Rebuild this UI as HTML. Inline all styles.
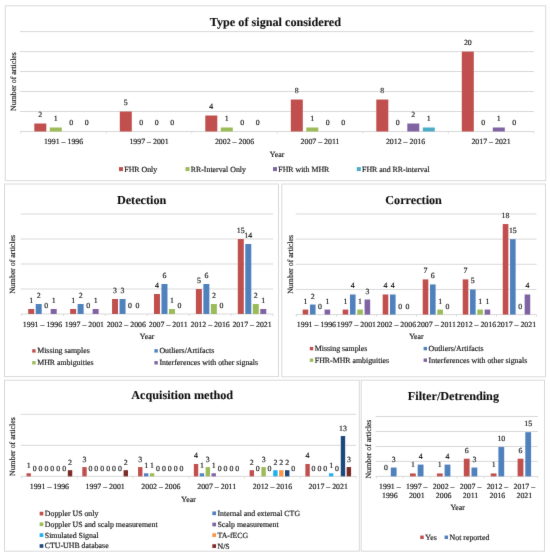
<!DOCTYPE html>
<html><head><meta charset="utf-8"><style>
html,body{margin:0;padding:0;background:#fff;}
svg{display:block;font-family:"Liberation Serif",serif;text-rendering:geometricPrecision;}
</style></head><body>
<svg width="550" height="556" viewBox="0 0 550 556">
<defs><filter id="bl" x="-5%" y="-5%" width="110%" height="110%"><feConvolveMatrix order="3" kernelMatrix="0.0048 0.0595 0.0048 0.0595 0.7432 0.0595 0.0048 0.0595 0.0048" edgeMode="duplicate" preserveAlpha="false"/></filter></defs>
<rect width="550" height="556" fill="#fff"/>
<g filter="url(#bl)">
<rect x="5.30" y="5.80" width="540.40" height="174.90" fill="none" stroke="#D9D9D9" stroke-width="1"/>
<text x="275.40" y="26.20" font-size="12.2" font-weight="bold" text-anchor="middle" fill="#111" stroke="#111" stroke-width="0.1" >Type of signal considered</text>
<line x1="20.00" y1="31.60" x2="533.80" y2="31.60" stroke="#D9D9D9" stroke-width="1"/>
<line x1="20.00" y1="51.60" x2="533.80" y2="51.60" stroke="#D9D9D9" stroke-width="1"/>
<line x1="20.00" y1="71.50" x2="533.80" y2="71.50" stroke="#D9D9D9" stroke-width="1"/>
<line x1="20.00" y1="91.50" x2="533.80" y2="91.50" stroke="#D9D9D9" stroke-width="1"/>
<line x1="20.00" y1="111.50" x2="533.80" y2="111.50" stroke="#D9D9D9" stroke-width="1"/>
<line x1="20.00" y1="131.50" x2="533.80" y2="131.50" stroke="#D9D9D9" stroke-width="1"/>
<line x1="20.80" y1="131.50" x2="20.80" y2="133.50" stroke="#D9D9D9" stroke-width="1"/>
<line x1="106.30" y1="131.50" x2="106.30" y2="133.50" stroke="#D9D9D9" stroke-width="1"/>
<line x1="191.80" y1="131.50" x2="191.80" y2="133.50" stroke="#D9D9D9" stroke-width="1"/>
<line x1="277.30" y1="131.50" x2="277.30" y2="133.50" stroke="#D9D9D9" stroke-width="1"/>
<line x1="362.80" y1="131.50" x2="362.80" y2="133.50" stroke="#D9D9D9" stroke-width="1"/>
<line x1="448.30" y1="131.50" x2="448.30" y2="133.50" stroke="#D9D9D9" stroke-width="1"/>
<line x1="533.80" y1="131.50" x2="533.80" y2="133.50" stroke="#D9D9D9" stroke-width="1"/>
<rect x="34.30" y="123.51" width="12.00" height="7.99" fill="#C0504D"/>
<text x="40.30" y="117.11" font-size="7.85" font-weight="normal" text-anchor="middle" fill="#111" stroke="#111" stroke-width="0.15" >2</text>
<rect x="49.80" y="127.50" width="12.00" height="4.00" fill="#9BBB59"/>
<text x="55.80" y="121.10" font-size="7.85" font-weight="normal" text-anchor="middle" fill="#111" stroke="#111" stroke-width="0.15" >1</text>
<text x="71.30" y="125.10" font-size="7.85" font-weight="normal" text-anchor="middle" fill="#111" stroke="#111" stroke-width="0.15" >0</text>
<text x="86.80" y="125.10" font-size="7.85" font-weight="normal" text-anchor="middle" fill="#111" stroke="#111" stroke-width="0.15" >0</text>
<text x="63.55" y="144.30" font-size="7.85" font-weight="normal" text-anchor="middle" fill="#111" stroke="#111" stroke-width="0.15" >1991 – 1996</text>
<rect x="119.80" y="111.53" width="12.00" height="19.98" fill="#C0504D"/>
<text x="125.80" y="105.12" font-size="7.85" font-weight="normal" text-anchor="middle" fill="#111" stroke="#111" stroke-width="0.15" >5</text>
<text x="141.30" y="125.10" font-size="7.85" font-weight="normal" text-anchor="middle" fill="#111" stroke="#111" stroke-width="0.15" >0</text>
<text x="156.80" y="125.10" font-size="7.85" font-weight="normal" text-anchor="middle" fill="#111" stroke="#111" stroke-width="0.15" >0</text>
<text x="172.30" y="125.10" font-size="7.85" font-weight="normal" text-anchor="middle" fill="#111" stroke="#111" stroke-width="0.15" >0</text>
<text x="149.05" y="144.30" font-size="7.85" font-weight="normal" text-anchor="middle" fill="#111" stroke="#111" stroke-width="0.15" >1997 – 2001</text>
<rect x="205.30" y="115.52" width="12.00" height="15.98" fill="#C0504D"/>
<text x="211.30" y="109.12" font-size="7.85" font-weight="normal" text-anchor="middle" fill="#111" stroke="#111" stroke-width="0.15" >4</text>
<rect x="220.80" y="127.50" width="12.00" height="4.00" fill="#9BBB59"/>
<text x="226.80" y="121.10" font-size="7.85" font-weight="normal" text-anchor="middle" fill="#111" stroke="#111" stroke-width="0.15" >1</text>
<text x="242.30" y="125.10" font-size="7.85" font-weight="normal" text-anchor="middle" fill="#111" stroke="#111" stroke-width="0.15" >0</text>
<text x="257.80" y="125.10" font-size="7.85" font-weight="normal" text-anchor="middle" fill="#111" stroke="#111" stroke-width="0.15" >0</text>
<text x="234.55" y="144.30" font-size="7.85" font-weight="normal" text-anchor="middle" fill="#111" stroke="#111" stroke-width="0.15" >2002 – 2006</text>
<rect x="290.80" y="99.54" width="12.00" height="31.96" fill="#C0504D"/>
<text x="296.80" y="93.14" font-size="7.85" font-weight="normal" text-anchor="middle" fill="#111" stroke="#111" stroke-width="0.15" >8</text>
<rect x="306.30" y="127.50" width="12.00" height="4.00" fill="#9BBB59"/>
<text x="312.30" y="121.10" font-size="7.85" font-weight="normal" text-anchor="middle" fill="#111" stroke="#111" stroke-width="0.15" >1</text>
<text x="327.80" y="125.10" font-size="7.85" font-weight="normal" text-anchor="middle" fill="#111" stroke="#111" stroke-width="0.15" >0</text>
<text x="343.30" y="125.10" font-size="7.85" font-weight="normal" text-anchor="middle" fill="#111" stroke="#111" stroke-width="0.15" >0</text>
<text x="320.05" y="144.30" font-size="7.85" font-weight="normal" text-anchor="middle" fill="#111" stroke="#111" stroke-width="0.15" >2007 – 2011</text>
<rect x="376.30" y="99.54" width="12.00" height="31.96" fill="#C0504D"/>
<text x="382.30" y="93.14" font-size="7.85" font-weight="normal" text-anchor="middle" fill="#111" stroke="#111" stroke-width="0.15" >8</text>
<text x="397.80" y="125.10" font-size="7.85" font-weight="normal" text-anchor="middle" fill="#111" stroke="#111" stroke-width="0.15" >0</text>
<rect x="407.30" y="123.51" width="12.00" height="7.99" fill="#8064A2"/>
<text x="413.30" y="117.11" font-size="7.85" font-weight="normal" text-anchor="middle" fill="#111" stroke="#111" stroke-width="0.15" >2</text>
<rect x="422.80" y="127.50" width="12.00" height="4.00" fill="#4BACC6"/>
<text x="428.80" y="121.10" font-size="7.85" font-weight="normal" text-anchor="middle" fill="#111" stroke="#111" stroke-width="0.15" >1</text>
<text x="405.55" y="144.30" font-size="7.85" font-weight="normal" text-anchor="middle" fill="#111" stroke="#111" stroke-width="0.15" >2012 – 2016</text>
<rect x="461.80" y="51.60" width="12.00" height="79.90" fill="#C0504D"/>
<text x="467.80" y="45.20" font-size="7.85" font-weight="normal" text-anchor="middle" fill="#111" stroke="#111" stroke-width="0.15" >20</text>
<text x="483.30" y="125.10" font-size="7.85" font-weight="normal" text-anchor="middle" fill="#111" stroke="#111" stroke-width="0.15" >0</text>
<rect x="492.80" y="127.50" width="12.00" height="4.00" fill="#8064A2"/>
<text x="498.80" y="121.10" font-size="7.85" font-weight="normal" text-anchor="middle" fill="#111" stroke="#111" stroke-width="0.15" >1</text>
<text x="514.30" y="125.10" font-size="7.85" font-weight="normal" text-anchor="middle" fill="#111" stroke="#111" stroke-width="0.15" >0</text>
<text x="491.05" y="144.30" font-size="7.85" font-weight="normal" text-anchor="middle" fill="#111" stroke="#111" stroke-width="0.15" >2017 – 2021</text>
<text x="277.10" y="156.90" font-size="7.85" font-weight="normal" text-anchor="middle" fill="#111" stroke="#111" stroke-width="0.15" >Year</text>
<text x="13.00" y="81.50" font-size="7.85" font-weight="normal" text-anchor="middle" fill="#111" stroke="#111" stroke-width="0.15" transform="rotate(-90 13.00 81.50)" dominant-baseline="central">Number of articles</text>
<rect x="119.00" y="167.10" width="4.00" height="4.00" fill="#C0504D"/>
<text x="124.30" y="171.50" font-size="7.85" font-weight="normal" text-anchor="start" fill="#111" stroke="#111" stroke-width="0.15" >FHR Only</text>
<rect x="185.50" y="167.10" width="4.00" height="4.00" fill="#9BBB59"/>
<text x="190.80" y="171.50" font-size="7.85" font-weight="normal" text-anchor="start" fill="#111" stroke="#111" stroke-width="0.15" >RR-Interval Only</text>
<rect x="273.00" y="167.10" width="4.00" height="4.00" fill="#8064A2"/>
<text x="278.30" y="171.50" font-size="7.85" font-weight="normal" text-anchor="start" fill="#111" stroke="#111" stroke-width="0.15" >FHR with MHR</text>
<rect x="356.80" y="167.10" width="4.00" height="4.00" fill="#4BACC6"/>
<text x="362.10" y="171.50" font-size="7.85" font-weight="normal" text-anchor="start" fill="#111" stroke="#111" stroke-width="0.15" >FHR and RR-interval</text>
<rect x="4.50" y="184.00" width="274.00" height="192.60" fill="none" stroke="#D9D9D9" stroke-width="1"/>
<text x="141.60" y="203.50" font-size="12.2" font-weight="bold" text-anchor="middle" fill="#111" stroke="#111" stroke-width="0.1" >Detection</text>
<line x1="20.70" y1="214.00" x2="273.00" y2="214.00" stroke="#D9D9D9" stroke-width="1"/>
<line x1="20.70" y1="239.00" x2="273.00" y2="239.00" stroke="#D9D9D9" stroke-width="1"/>
<line x1="20.70" y1="264.00" x2="273.00" y2="264.00" stroke="#D9D9D9" stroke-width="1"/>
<line x1="20.70" y1="289.00" x2="273.00" y2="289.00" stroke="#D9D9D9" stroke-width="1"/>
<line x1="20.70" y1="314.00" x2="273.00" y2="314.00" stroke="#D9D9D9" stroke-width="1"/>
<line x1="21.50" y1="314.00" x2="21.50" y2="316.00" stroke="#D9D9D9" stroke-width="1"/>
<line x1="63.42" y1="314.00" x2="63.42" y2="316.00" stroke="#D9D9D9" stroke-width="1"/>
<line x1="105.33" y1="314.00" x2="105.33" y2="316.00" stroke="#D9D9D9" stroke-width="1"/>
<line x1="147.25" y1="314.00" x2="147.25" y2="316.00" stroke="#D9D9D9" stroke-width="1"/>
<line x1="189.17" y1="314.00" x2="189.17" y2="316.00" stroke="#D9D9D9" stroke-width="1"/>
<line x1="231.08" y1="314.00" x2="231.08" y2="316.00" stroke="#D9D9D9" stroke-width="1"/>
<line x1="273.00" y1="314.00" x2="273.00" y2="316.00" stroke="#D9D9D9" stroke-width="1"/>
<rect x="28.21" y="309.00" width="6.00" height="5.00" fill="#C0504D"/>
<text x="31.21" y="303.00" font-size="7.85" font-weight="normal" text-anchor="middle" fill="#111" stroke="#111" stroke-width="0.15" >1</text>
<rect x="35.71" y="304.00" width="6.00" height="10.00" fill="#4F81BD"/>
<text x="38.71" y="298.00" font-size="7.85" font-weight="normal" text-anchor="middle" fill="#111" stroke="#111" stroke-width="0.15" >2</text>
<text x="46.21" y="308.00" font-size="7.85" font-weight="normal" text-anchor="middle" fill="#111" stroke="#111" stroke-width="0.15" >0</text>
<rect x="50.71" y="309.00" width="6.00" height="5.00" fill="#8064A2"/>
<text x="53.71" y="303.00" font-size="7.85" font-weight="normal" text-anchor="middle" fill="#111" stroke="#111" stroke-width="0.15" >1</text>
<text x="42.46" y="326.50" font-size="7.85" font-weight="normal" text-anchor="middle" fill="#111" stroke="#111" stroke-width="0.15" >1991 – 1996</text>
<rect x="70.12" y="309.00" width="6.00" height="5.00" fill="#C0504D"/>
<text x="73.12" y="303.00" font-size="7.85" font-weight="normal" text-anchor="middle" fill="#111" stroke="#111" stroke-width="0.15" >1</text>
<rect x="77.62" y="304.00" width="6.00" height="10.00" fill="#4F81BD"/>
<text x="80.62" y="298.00" font-size="7.85" font-weight="normal" text-anchor="middle" fill="#111" stroke="#111" stroke-width="0.15" >2</text>
<text x="88.12" y="308.00" font-size="7.85" font-weight="normal" text-anchor="middle" fill="#111" stroke="#111" stroke-width="0.15" >0</text>
<rect x="92.62" y="309.00" width="6.00" height="5.00" fill="#8064A2"/>
<text x="95.62" y="303.00" font-size="7.85" font-weight="normal" text-anchor="middle" fill="#111" stroke="#111" stroke-width="0.15" >1</text>
<text x="84.38" y="326.50" font-size="7.85" font-weight="normal" text-anchor="middle" fill="#111" stroke="#111" stroke-width="0.15" >1997 – 2001</text>
<rect x="112.04" y="299.00" width="6.00" height="15.00" fill="#C0504D"/>
<text x="115.04" y="293.00" font-size="7.85" font-weight="normal" text-anchor="middle" fill="#111" stroke="#111" stroke-width="0.15" >3</text>
<rect x="119.54" y="299.00" width="6.00" height="15.00" fill="#4F81BD"/>
<text x="122.54" y="293.00" font-size="7.85" font-weight="normal" text-anchor="middle" fill="#111" stroke="#111" stroke-width="0.15" >3</text>
<text x="130.04" y="308.00" font-size="7.85" font-weight="normal" text-anchor="middle" fill="#111" stroke="#111" stroke-width="0.15" >0</text>
<text x="137.54" y="308.00" font-size="7.85" font-weight="normal" text-anchor="middle" fill="#111" stroke="#111" stroke-width="0.15" >0</text>
<text x="126.29" y="326.50" font-size="7.85" font-weight="normal" text-anchor="middle" fill="#111" stroke="#111" stroke-width="0.15" >2002 – 2006</text>
<rect x="153.96" y="294.00" width="6.00" height="20.00" fill="#C0504D"/>
<text x="156.96" y="288.00" font-size="7.85" font-weight="normal" text-anchor="middle" fill="#111" stroke="#111" stroke-width="0.15" >4</text>
<rect x="161.46" y="284.00" width="6.00" height="30.00" fill="#4F81BD"/>
<text x="164.46" y="278.00" font-size="7.85" font-weight="normal" text-anchor="middle" fill="#111" stroke="#111" stroke-width="0.15" >6</text>
<rect x="168.96" y="309.00" width="6.00" height="5.00" fill="#9BBB59"/>
<text x="171.96" y="303.00" font-size="7.85" font-weight="normal" text-anchor="middle" fill="#111" stroke="#111" stroke-width="0.15" >1</text>
<text x="179.46" y="308.00" font-size="7.85" font-weight="normal" text-anchor="middle" fill="#111" stroke="#111" stroke-width="0.15" >0</text>
<text x="168.21" y="326.50" font-size="7.85" font-weight="normal" text-anchor="middle" fill="#111" stroke="#111" stroke-width="0.15" >2007 – 2011</text>
<rect x="195.88" y="289.00" width="6.00" height="25.00" fill="#C0504D"/>
<text x="198.88" y="283.00" font-size="7.85" font-weight="normal" text-anchor="middle" fill="#111" stroke="#111" stroke-width="0.15" >5</text>
<rect x="203.38" y="284.00" width="6.00" height="30.00" fill="#4F81BD"/>
<text x="206.38" y="278.00" font-size="7.85" font-weight="normal" text-anchor="middle" fill="#111" stroke="#111" stroke-width="0.15" >6</text>
<rect x="210.88" y="304.00" width="6.00" height="10.00" fill="#9BBB59"/>
<text x="213.88" y="298.00" font-size="7.85" font-weight="normal" text-anchor="middle" fill="#111" stroke="#111" stroke-width="0.15" >2</text>
<text x="221.38" y="308.00" font-size="7.85" font-weight="normal" text-anchor="middle" fill="#111" stroke="#111" stroke-width="0.15" >0</text>
<text x="210.12" y="326.50" font-size="7.85" font-weight="normal" text-anchor="middle" fill="#111" stroke="#111" stroke-width="0.15" >2012 – 2016</text>
<rect x="237.79" y="239.00" width="6.00" height="75.00" fill="#C0504D"/>
<text x="240.79" y="233.00" font-size="7.85" font-weight="normal" text-anchor="middle" fill="#111" stroke="#111" stroke-width="0.15" >15</text>
<rect x="245.29" y="244.00" width="6.00" height="70.00" fill="#4F81BD"/>
<text x="248.29" y="238.00" font-size="7.85" font-weight="normal" text-anchor="middle" fill="#111" stroke="#111" stroke-width="0.15" >14</text>
<rect x="252.79" y="304.00" width="6.00" height="10.00" fill="#9BBB59"/>
<text x="255.79" y="298.00" font-size="7.85" font-weight="normal" text-anchor="middle" fill="#111" stroke="#111" stroke-width="0.15" >2</text>
<rect x="260.29" y="309.00" width="6.00" height="5.00" fill="#8064A2"/>
<text x="263.29" y="303.00" font-size="7.85" font-weight="normal" text-anchor="middle" fill="#111" stroke="#111" stroke-width="0.15" >1</text>
<text x="252.04" y="326.50" font-size="7.85" font-weight="normal" text-anchor="middle" fill="#111" stroke="#111" stroke-width="0.15" >2017 – 2021</text>
<text x="147.10" y="339.40" font-size="7.85" font-weight="normal" text-anchor="middle" fill="#111" stroke="#111" stroke-width="0.15" >Year</text>
<text x="12.40" y="264.40" font-size="7.85" font-weight="normal" text-anchor="middle" fill="#111" stroke="#111" stroke-width="0.15" transform="rotate(-90 12.40 264.40)" dominant-baseline="central">Number of articles</text>
<rect x="32.20" y="349.20" width="3.40" height="3.40" fill="#C0504D"/>
<text x="37.20" y="353.30" font-size="7.85" font-weight="normal" text-anchor="start" fill="#111" stroke="#111" stroke-width="0.15" >Missing samples</text>
<rect x="32.20" y="361.10" width="3.40" height="3.40" fill="#9BBB59"/>
<text x="37.20" y="365.20" font-size="7.85" font-weight="normal" text-anchor="start" fill="#111" stroke="#111" stroke-width="0.15" >MHR ambiguities</text>
<rect x="154.40" y="349.20" width="3.40" height="3.40" fill="#4F81BD"/>
<text x="159.40" y="353.30" font-size="7.85" font-weight="normal" text-anchor="start" fill="#111" stroke="#111" stroke-width="0.15" >Outliers/Artifacts</text>
<rect x="154.40" y="361.10" width="3.40" height="3.40" fill="#8064A2"/>
<text x="159.40" y="365.20" font-size="7.85" font-weight="normal" text-anchor="start" fill="#111" stroke="#111" stroke-width="0.15" >Interferences with other signals</text>
<rect x="281.80" y="184.00" width="263.70" height="192.80" fill="none" stroke="#D9D9D9" stroke-width="1"/>
<text x="413.60" y="203.50" font-size="12.2" font-weight="bold" text-anchor="middle" fill="#111" stroke="#111" stroke-width="0.1" >Correction</text>
<line x1="295.60" y1="214.00" x2="536.50" y2="214.00" stroke="#D9D9D9" stroke-width="1"/>
<line x1="295.60" y1="239.15" x2="536.50" y2="239.15" stroke="#D9D9D9" stroke-width="1"/>
<line x1="295.60" y1="264.30" x2="536.50" y2="264.30" stroke="#D9D9D9" stroke-width="1"/>
<line x1="295.60" y1="289.45" x2="536.50" y2="289.45" stroke="#D9D9D9" stroke-width="1"/>
<line x1="295.60" y1="314.60" x2="536.50" y2="314.60" stroke="#D9D9D9" stroke-width="1"/>
<line x1="296.40" y1="314.60" x2="296.40" y2="316.60" stroke="#D9D9D9" stroke-width="1"/>
<line x1="336.42" y1="314.60" x2="336.42" y2="316.60" stroke="#D9D9D9" stroke-width="1"/>
<line x1="376.43" y1="314.60" x2="376.43" y2="316.60" stroke="#D9D9D9" stroke-width="1"/>
<line x1="416.45" y1="314.60" x2="416.45" y2="316.60" stroke="#D9D9D9" stroke-width="1"/>
<line x1="456.47" y1="314.60" x2="456.47" y2="316.60" stroke="#D9D9D9" stroke-width="1"/>
<line x1="496.48" y1="314.60" x2="496.48" y2="316.60" stroke="#D9D9D9" stroke-width="1"/>
<line x1="536.50" y1="314.60" x2="536.50" y2="316.60" stroke="#D9D9D9" stroke-width="1"/>
<rect x="302.66" y="309.57" width="5.60" height="5.03" fill="#C0504D"/>
<text x="305.46" y="303.57" font-size="7.85" font-weight="normal" text-anchor="middle" fill="#111" stroke="#111" stroke-width="0.15" >1</text>
<rect x="309.96" y="304.54" width="5.60" height="10.06" fill="#4F81BD"/>
<text x="312.76" y="298.54" font-size="7.85" font-weight="normal" text-anchor="middle" fill="#111" stroke="#111" stroke-width="0.15" >2</text>
<text x="320.06" y="308.60" font-size="7.85" font-weight="normal" text-anchor="middle" fill="#111" stroke="#111" stroke-width="0.15" >0</text>
<rect x="324.56" y="309.57" width="5.60" height="5.03" fill="#8064A2"/>
<text x="327.36" y="303.57" font-size="7.85" font-weight="normal" text-anchor="middle" fill="#111" stroke="#111" stroke-width="0.15" >1</text>
<text x="316.41" y="327.00" font-size="7.85" font-weight="normal" text-anchor="middle" fill="#111" stroke="#111" stroke-width="0.15" >1991 – 1996</text>
<rect x="342.67" y="309.57" width="5.60" height="5.03" fill="#C0504D"/>
<text x="345.47" y="303.57" font-size="7.85" font-weight="normal" text-anchor="middle" fill="#111" stroke="#111" stroke-width="0.15" >1</text>
<rect x="349.97" y="294.48" width="5.60" height="20.12" fill="#4F81BD"/>
<text x="352.77" y="288.48" font-size="7.85" font-weight="normal" text-anchor="middle" fill="#111" stroke="#111" stroke-width="0.15" >4</text>
<rect x="357.27" y="309.57" width="5.60" height="5.03" fill="#9BBB59"/>
<text x="360.07" y="303.57" font-size="7.85" font-weight="normal" text-anchor="middle" fill="#111" stroke="#111" stroke-width="0.15" >1</text>
<rect x="364.57" y="299.51" width="5.60" height="15.09" fill="#8064A2"/>
<text x="367.37" y="293.51" font-size="7.85" font-weight="normal" text-anchor="middle" fill="#111" stroke="#111" stroke-width="0.15" >3</text>
<text x="356.42" y="327.00" font-size="7.85" font-weight="normal" text-anchor="middle" fill="#111" stroke="#111" stroke-width="0.15" >1997 – 2001</text>
<rect x="382.69" y="294.48" width="5.60" height="20.12" fill="#C0504D"/>
<text x="385.49" y="288.48" font-size="7.85" font-weight="normal" text-anchor="middle" fill="#111" stroke="#111" stroke-width="0.15" >4</text>
<rect x="389.99" y="294.48" width="5.60" height="20.12" fill="#4F81BD"/>
<text x="392.79" y="288.48" font-size="7.85" font-weight="normal" text-anchor="middle" fill="#111" stroke="#111" stroke-width="0.15" >4</text>
<text x="400.09" y="308.60" font-size="7.85" font-weight="normal" text-anchor="middle" fill="#111" stroke="#111" stroke-width="0.15" >0</text>
<text x="407.39" y="308.60" font-size="7.85" font-weight="normal" text-anchor="middle" fill="#111" stroke="#111" stroke-width="0.15" >0</text>
<text x="396.44" y="327.00" font-size="7.85" font-weight="normal" text-anchor="middle" fill="#111" stroke="#111" stroke-width="0.15" >2002 – 2006</text>
<rect x="422.71" y="279.39" width="5.60" height="35.21" fill="#C0504D"/>
<text x="425.51" y="273.39" font-size="7.85" font-weight="normal" text-anchor="middle" fill="#111" stroke="#111" stroke-width="0.15" >7</text>
<rect x="430.01" y="284.42" width="5.60" height="30.18" fill="#4F81BD"/>
<text x="432.81" y="278.42" font-size="7.85" font-weight="normal" text-anchor="middle" fill="#111" stroke="#111" stroke-width="0.15" >6</text>
<rect x="437.31" y="309.57" width="5.60" height="5.03" fill="#9BBB59"/>
<text x="440.11" y="303.57" font-size="7.85" font-weight="normal" text-anchor="middle" fill="#111" stroke="#111" stroke-width="0.15" >1</text>
<text x="447.41" y="308.60" font-size="7.85" font-weight="normal" text-anchor="middle" fill="#111" stroke="#111" stroke-width="0.15" >0</text>
<text x="436.46" y="327.00" font-size="7.85" font-weight="normal" text-anchor="middle" fill="#111" stroke="#111" stroke-width="0.15" >2007 – 2011</text>
<rect x="462.73" y="279.39" width="5.60" height="35.21" fill="#C0504D"/>
<text x="465.53" y="273.39" font-size="7.85" font-weight="normal" text-anchor="middle" fill="#111" stroke="#111" stroke-width="0.15" >7</text>
<rect x="470.03" y="289.45" width="5.60" height="25.15" fill="#4F81BD"/>
<text x="472.83" y="283.45" font-size="7.85" font-weight="normal" text-anchor="middle" fill="#111" stroke="#111" stroke-width="0.15" >5</text>
<rect x="477.32" y="309.57" width="5.60" height="5.03" fill="#9BBB59"/>
<text x="480.12" y="303.57" font-size="7.85" font-weight="normal" text-anchor="middle" fill="#111" stroke="#111" stroke-width="0.15" >1</text>
<rect x="484.62" y="309.57" width="5.60" height="5.03" fill="#8064A2"/>
<text x="487.43" y="303.57" font-size="7.85" font-weight="normal" text-anchor="middle" fill="#111" stroke="#111" stroke-width="0.15" >1</text>
<text x="476.48" y="327.00" font-size="7.85" font-weight="normal" text-anchor="middle" fill="#111" stroke="#111" stroke-width="0.15" >2012 – 2016</text>
<rect x="502.74" y="224.06" width="5.60" height="90.54" fill="#C0504D"/>
<text x="505.54" y="218.06" font-size="7.85" font-weight="normal" text-anchor="middle" fill="#111" stroke="#111" stroke-width="0.15" >18</text>
<rect x="510.04" y="239.15" width="5.60" height="75.45" fill="#4F81BD"/>
<text x="512.84" y="233.15" font-size="7.85" font-weight="normal" text-anchor="middle" fill="#111" stroke="#111" stroke-width="0.15" >15</text>
<text x="520.14" y="308.60" font-size="7.85" font-weight="normal" text-anchor="middle" fill="#111" stroke="#111" stroke-width="0.15" >0</text>
<rect x="524.64" y="294.48" width="5.60" height="20.12" fill="#8064A2"/>
<text x="527.44" y="288.48" font-size="7.85" font-weight="normal" text-anchor="middle" fill="#111" stroke="#111" stroke-width="0.15" >4</text>
<text x="516.49" y="327.00" font-size="7.85" font-weight="normal" text-anchor="middle" fill="#111" stroke="#111" stroke-width="0.15" >2017 – 2021</text>
<text x="416.40" y="339.20" font-size="7.85" font-weight="normal" text-anchor="middle" fill="#111" stroke="#111" stroke-width="0.15" >Year</text>
<text x="291.00" y="264.40" font-size="7.85" font-weight="normal" text-anchor="middle" fill="#111" stroke="#111" stroke-width="0.15" transform="rotate(-90 291.00 264.40)" dominant-baseline="central">Number of articles</text>
<rect x="309.80" y="346.90" width="3.40" height="3.40" fill="#C0504D"/>
<text x="314.80" y="351.00" font-size="7.85" font-weight="normal" text-anchor="start" fill="#111" stroke="#111" stroke-width="0.15" >Missing samples</text>
<rect x="309.80" y="358.50" width="3.40" height="3.40" fill="#9BBB59"/>
<text x="314.80" y="362.60" font-size="7.85" font-weight="normal" text-anchor="start" fill="#111" stroke="#111" stroke-width="0.15" >FHR-MHR ambiguities</text>
<rect x="423.60" y="346.90" width="3.40" height="3.40" fill="#4F81BD"/>
<text x="428.60" y="351.00" font-size="7.85" font-weight="normal" text-anchor="start" fill="#111" stroke="#111" stroke-width="0.15" >Outliers/Artifacts</text>
<rect x="423.60" y="358.50" width="3.40" height="3.40" fill="#8064A2"/>
<text x="428.60" y="362.60" font-size="7.85" font-weight="normal" text-anchor="start" fill="#111" stroke="#111" stroke-width="0.15" >Interferences with other signals</text>
<rect x="4.50" y="380.20" width="354.80" height="171.00" fill="none" stroke="#D9D9D9" stroke-width="1"/>
<text x="182.20" y="399.30" font-size="12.2" font-weight="bold" text-anchor="middle" fill="#111" stroke="#111" stroke-width="0.1" >Acquisition method</text>
<line x1="20.70" y1="414.30" x2="356.10" y2="414.30" stroke="#D9D9D9" stroke-width="1"/>
<line x1="20.70" y1="445.35" x2="356.10" y2="445.35" stroke="#D9D9D9" stroke-width="1"/>
<line x1="20.70" y1="476.40" x2="356.10" y2="476.40" stroke="#D9D9D9" stroke-width="1"/>
<line x1="21.50" y1="476.40" x2="21.50" y2="478.40" stroke="#D9D9D9" stroke-width="1"/>
<line x1="77.27" y1="476.40" x2="77.27" y2="478.40" stroke="#D9D9D9" stroke-width="1"/>
<line x1="133.03" y1="476.40" x2="133.03" y2="478.40" stroke="#D9D9D9" stroke-width="1"/>
<line x1="188.80" y1="476.40" x2="188.80" y2="478.40" stroke="#D9D9D9" stroke-width="1"/>
<line x1="244.57" y1="476.40" x2="244.57" y2="478.40" stroke="#D9D9D9" stroke-width="1"/>
<line x1="300.33" y1="476.40" x2="300.33" y2="478.40" stroke="#D9D9D9" stroke-width="1"/>
<line x1="356.10" y1="476.40" x2="356.10" y2="478.40" stroke="#D9D9D9" stroke-width="1"/>
<rect x="26.53" y="473.29" width="4.40" height="3.10" fill="#C0504D"/>
<text x="28.73" y="467.79" font-size="7.85" font-weight="normal" text-anchor="middle" fill="#111" stroke="#111" stroke-width="0.15" >1</text>
<text x="34.63" y="470.90" font-size="7.85" font-weight="normal" text-anchor="middle" fill="#111" stroke="#111" stroke-width="0.15" >0</text>
<text x="40.53" y="470.90" font-size="7.85" font-weight="normal" text-anchor="middle" fill="#111" stroke="#111" stroke-width="0.15" >0</text>
<text x="46.43" y="470.90" font-size="7.85" font-weight="normal" text-anchor="middle" fill="#111" stroke="#111" stroke-width="0.15" >0</text>
<text x="52.33" y="470.90" font-size="7.85" font-weight="normal" text-anchor="middle" fill="#111" stroke="#111" stroke-width="0.15" >0</text>
<text x="58.23" y="470.90" font-size="7.85" font-weight="normal" text-anchor="middle" fill="#111" stroke="#111" stroke-width="0.15" >0</text>
<text x="64.13" y="470.90" font-size="7.85" font-weight="normal" text-anchor="middle" fill="#111" stroke="#111" stroke-width="0.15" >0</text>
<rect x="67.83" y="470.19" width="4.40" height="6.21" fill="#7B2A28"/>
<text x="70.03" y="464.69" font-size="7.85" font-weight="normal" text-anchor="middle" fill="#111" stroke="#111" stroke-width="0.15" >2</text>
<text x="49.38" y="489.20" font-size="7.85" font-weight="normal" text-anchor="middle" fill="#111" stroke="#111" stroke-width="0.15" >1991 – 1996</text>
<rect x="82.30" y="467.08" width="4.40" height="9.31" fill="#C0504D"/>
<text x="84.50" y="461.58" font-size="7.85" font-weight="normal" text-anchor="middle" fill="#111" stroke="#111" stroke-width="0.15" >3</text>
<text x="90.40" y="470.90" font-size="7.85" font-weight="normal" text-anchor="middle" fill="#111" stroke="#111" stroke-width="0.15" >0</text>
<text x="96.30" y="470.90" font-size="7.85" font-weight="normal" text-anchor="middle" fill="#111" stroke="#111" stroke-width="0.15" >0</text>
<text x="102.20" y="470.90" font-size="7.85" font-weight="normal" text-anchor="middle" fill="#111" stroke="#111" stroke-width="0.15" >0</text>
<text x="108.10" y="470.90" font-size="7.85" font-weight="normal" text-anchor="middle" fill="#111" stroke="#111" stroke-width="0.15" >0</text>
<text x="114.00" y="470.90" font-size="7.85" font-weight="normal" text-anchor="middle" fill="#111" stroke="#111" stroke-width="0.15" >0</text>
<text x="119.90" y="470.90" font-size="7.85" font-weight="normal" text-anchor="middle" fill="#111" stroke="#111" stroke-width="0.15" >0</text>
<rect x="123.60" y="470.19" width="4.40" height="6.21" fill="#7B2A28"/>
<text x="125.80" y="464.69" font-size="7.85" font-weight="normal" text-anchor="middle" fill="#111" stroke="#111" stroke-width="0.15" >2</text>
<text x="105.15" y="489.20" font-size="7.85" font-weight="normal" text-anchor="middle" fill="#111" stroke="#111" stroke-width="0.15" >1997 – 2001</text>
<rect x="138.07" y="467.08" width="4.40" height="9.31" fill="#C0504D"/>
<text x="140.27" y="461.58" font-size="7.85" font-weight="normal" text-anchor="middle" fill="#111" stroke="#111" stroke-width="0.15" >3</text>
<rect x="143.97" y="473.29" width="4.40" height="3.10" fill="#4F81BD"/>
<text x="146.17" y="467.79" font-size="7.85" font-weight="normal" text-anchor="middle" fill="#111" stroke="#111" stroke-width="0.15" >1</text>
<rect x="149.87" y="473.29" width="4.40" height="3.10" fill="#9BBB59"/>
<text x="152.07" y="467.79" font-size="7.85" font-weight="normal" text-anchor="middle" fill="#111" stroke="#111" stroke-width="0.15" >1</text>
<text x="157.97" y="470.90" font-size="7.85" font-weight="normal" text-anchor="middle" fill="#111" stroke="#111" stroke-width="0.15" >0</text>
<text x="163.87" y="470.90" font-size="7.85" font-weight="normal" text-anchor="middle" fill="#111" stroke="#111" stroke-width="0.15" >0</text>
<text x="169.77" y="470.90" font-size="7.85" font-weight="normal" text-anchor="middle" fill="#111" stroke="#111" stroke-width="0.15" >0</text>
<text x="175.67" y="470.90" font-size="7.85" font-weight="normal" text-anchor="middle" fill="#111" stroke="#111" stroke-width="0.15" >0</text>
<text x="181.57" y="470.90" font-size="7.85" font-weight="normal" text-anchor="middle" fill="#111" stroke="#111" stroke-width="0.15" >0</text>
<text x="160.92" y="489.20" font-size="7.85" font-weight="normal" text-anchor="middle" fill="#111" stroke="#111" stroke-width="0.15" >2002 – 2006</text>
<rect x="193.83" y="463.98" width="4.40" height="12.42" fill="#C0504D"/>
<text x="196.03" y="458.48" font-size="7.85" font-weight="normal" text-anchor="middle" fill="#111" stroke="#111" stroke-width="0.15" >4</text>
<rect x="199.73" y="473.29" width="4.40" height="3.10" fill="#4F81BD"/>
<text x="201.93" y="467.79" font-size="7.85" font-weight="normal" text-anchor="middle" fill="#111" stroke="#111" stroke-width="0.15" >1</text>
<rect x="205.63" y="467.08" width="4.40" height="9.31" fill="#9BBB59"/>
<text x="207.83" y="461.58" font-size="7.85" font-weight="normal" text-anchor="middle" fill="#111" stroke="#111" stroke-width="0.15" >3</text>
<rect x="211.53" y="473.29" width="4.40" height="3.10" fill="#8064A2"/>
<text x="213.73" y="467.79" font-size="7.85" font-weight="normal" text-anchor="middle" fill="#111" stroke="#111" stroke-width="0.15" >1</text>
<text x="219.63" y="470.90" font-size="7.85" font-weight="normal" text-anchor="middle" fill="#111" stroke="#111" stroke-width="0.15" >0</text>
<text x="225.53" y="470.90" font-size="7.85" font-weight="normal" text-anchor="middle" fill="#111" stroke="#111" stroke-width="0.15" >0</text>
<text x="231.43" y="470.90" font-size="7.85" font-weight="normal" text-anchor="middle" fill="#111" stroke="#111" stroke-width="0.15" >0</text>
<text x="237.33" y="470.90" font-size="7.85" font-weight="normal" text-anchor="middle" fill="#111" stroke="#111" stroke-width="0.15" >0</text>
<text x="216.68" y="489.20" font-size="7.85" font-weight="normal" text-anchor="middle" fill="#111" stroke="#111" stroke-width="0.15" >2007 – 2011</text>
<rect x="249.60" y="470.19" width="4.40" height="6.21" fill="#C0504D"/>
<text x="251.80" y="464.69" font-size="7.85" font-weight="normal" text-anchor="middle" fill="#111" stroke="#111" stroke-width="0.15" >2</text>
<text x="257.70" y="470.90" font-size="7.85" font-weight="normal" text-anchor="middle" fill="#111" stroke="#111" stroke-width="0.15" >0</text>
<rect x="261.40" y="467.08" width="4.40" height="9.31" fill="#9BBB59"/>
<text x="263.60" y="461.58" font-size="7.85" font-weight="normal" text-anchor="middle" fill="#111" stroke="#111" stroke-width="0.15" >3</text>
<text x="269.50" y="470.90" font-size="7.85" font-weight="normal" text-anchor="middle" fill="#111" stroke="#111" stroke-width="0.15" >0</text>
<rect x="273.20" y="470.19" width="4.40" height="6.21" fill="#1FB1EF"/>
<text x="275.40" y="464.69" font-size="7.85" font-weight="normal" text-anchor="middle" fill="#111" stroke="#111" stroke-width="0.15" >2</text>
<rect x="279.10" y="470.19" width="4.40" height="6.21" fill="#F79646"/>
<text x="281.30" y="464.69" font-size="7.85" font-weight="normal" text-anchor="middle" fill="#111" stroke="#111" stroke-width="0.15" >2</text>
<rect x="285.00" y="470.19" width="4.40" height="6.21" fill="#1F497D"/>
<text x="287.20" y="464.69" font-size="7.85" font-weight="normal" text-anchor="middle" fill="#111" stroke="#111" stroke-width="0.15" >2</text>
<text x="293.10" y="470.90" font-size="7.85" font-weight="normal" text-anchor="middle" fill="#111" stroke="#111" stroke-width="0.15" >0</text>
<text x="272.45" y="489.20" font-size="7.85" font-weight="normal" text-anchor="middle" fill="#111" stroke="#111" stroke-width="0.15" >2012 – 2016</text>
<rect x="305.37" y="463.98" width="4.40" height="12.42" fill="#C0504D"/>
<text x="307.57" y="458.48" font-size="7.85" font-weight="normal" text-anchor="middle" fill="#111" stroke="#111" stroke-width="0.15" >4</text>
<text x="313.47" y="470.90" font-size="7.85" font-weight="normal" text-anchor="middle" fill="#111" stroke="#111" stroke-width="0.15" >0</text>
<text x="319.37" y="470.90" font-size="7.85" font-weight="normal" text-anchor="middle" fill="#111" stroke="#111" stroke-width="0.15" >0</text>
<text x="325.27" y="470.90" font-size="7.85" font-weight="normal" text-anchor="middle" fill="#111" stroke="#111" stroke-width="0.15" >0</text>
<rect x="328.97" y="473.29" width="4.40" height="3.10" fill="#1FB1EF"/>
<text x="331.17" y="467.79" font-size="7.85" font-weight="normal" text-anchor="middle" fill="#111" stroke="#111" stroke-width="0.15" >1</text>
<text x="337.07" y="470.90" font-size="7.85" font-weight="normal" text-anchor="middle" fill="#111" stroke="#111" stroke-width="0.15" >0</text>
<rect x="340.77" y="436.03" width="4.40" height="40.37" fill="#1F497D"/>
<text x="342.97" y="430.53" font-size="7.85" font-weight="normal" text-anchor="middle" fill="#111" stroke="#111" stroke-width="0.15" >13</text>
<rect x="346.67" y="467.08" width="4.40" height="9.31" fill="#7B2A28"/>
<text x="348.87" y="461.58" font-size="7.85" font-weight="normal" text-anchor="middle" fill="#111" stroke="#111" stroke-width="0.15" >3</text>
<text x="328.22" y="489.20" font-size="7.85" font-weight="normal" text-anchor="middle" fill="#111" stroke="#111" stroke-width="0.15" >2017 – 2021</text>
<text x="188.60" y="501.90" font-size="7.85" font-weight="normal" text-anchor="middle" fill="#111" stroke="#111" stroke-width="0.15" >Year</text>
<text x="12.70" y="446.60" font-size="7.85" font-weight="normal" text-anchor="middle" fill="#111" stroke="#111" stroke-width="0.15" transform="rotate(-90 12.70 446.60)" dominant-baseline="central">Number of articles</text>
<rect x="39.65" y="511.75" width="3.70" height="3.70" fill="#C0504D"/>
<text x="44.80" y="516.00" font-size="7.85" font-weight="normal" text-anchor="start" fill="#111" stroke="#111" stroke-width="0.15" >Doppler US only</text>
<rect x="39.65" y="522.45" width="3.70" height="3.70" fill="#9BBB59"/>
<text x="44.80" y="526.70" font-size="7.85" font-weight="normal" text-anchor="start" fill="#111" stroke="#111" stroke-width="0.15" >Doppler US and scalp measurement</text>
<rect x="39.65" y="533.25" width="3.70" height="3.70" fill="#1FB1EF"/>
<text x="44.80" y="537.50" font-size="7.85" font-weight="normal" text-anchor="start" fill="#111" stroke="#111" stroke-width="0.15" >Simulated Signal</text>
<rect x="39.65" y="544.15" width="3.70" height="3.70" fill="#1F497D"/>
<text x="44.80" y="548.40" font-size="7.85" font-weight="normal" text-anchor="start" fill="#111" stroke="#111" stroke-width="0.15" >CTU-UHB database</text>
<rect x="212.35" y="511.45" width="3.70" height="3.70" fill="#4F81BD"/>
<text x="217.50" y="515.70" font-size="7.85" font-weight="normal" text-anchor="start" fill="#111" stroke="#111" stroke-width="0.15" >Internal and external CTG</text>
<rect x="212.35" y="522.65" width="3.70" height="3.70" fill="#8064A2"/>
<text x="217.50" y="526.90" font-size="7.85" font-weight="normal" text-anchor="start" fill="#111" stroke="#111" stroke-width="0.15" >Scalp measurement</text>
<rect x="212.35" y="533.25" width="3.70" height="3.70" fill="#F79646"/>
<text x="217.50" y="537.50" font-size="7.85" font-weight="normal" text-anchor="start" fill="#111" stroke="#111" stroke-width="0.15" >TA-fECG</text>
<rect x="212.35" y="544.25" width="3.70" height="3.70" fill="#7B2A28"/>
<text x="217.50" y="548.50" font-size="7.85" font-weight="normal" text-anchor="start" fill="#111" stroke="#111" stroke-width="0.15" >N/S</text>
<rect x="361.20" y="380.20" width="183.30" height="171.00" fill="none" stroke="#D9D9D9" stroke-width="1"/>
<text x="453.40" y="400.00" font-size="12.2" font-weight="bold" text-anchor="middle" fill="#111" stroke="#111" stroke-width="0.1" >Filter/Detrending</text>
<line x1="375.60" y1="416.50" x2="537.80" y2="416.50" stroke="#D9D9D9" stroke-width="1"/>
<line x1="375.60" y1="431.50" x2="537.80" y2="431.50" stroke="#D9D9D9" stroke-width="1"/>
<line x1="375.60" y1="446.50" x2="537.80" y2="446.50" stroke="#D9D9D9" stroke-width="1"/>
<line x1="375.60" y1="461.40" x2="537.80" y2="461.40" stroke="#D9D9D9" stroke-width="1"/>
<line x1="375.60" y1="476.40" x2="537.80" y2="476.40" stroke="#D9D9D9" stroke-width="1"/>
<line x1="376.40" y1="476.40" x2="376.40" y2="478.40" stroke="#D9D9D9" stroke-width="1"/>
<line x1="403.30" y1="476.40" x2="403.30" y2="478.40" stroke="#D9D9D9" stroke-width="1"/>
<line x1="430.20" y1="476.40" x2="430.20" y2="478.40" stroke="#D9D9D9" stroke-width="1"/>
<line x1="457.10" y1="476.40" x2="457.10" y2="478.40" stroke="#D9D9D9" stroke-width="1"/>
<line x1="484.00" y1="476.40" x2="484.00" y2="478.40" stroke="#D9D9D9" stroke-width="1"/>
<line x1="510.90" y1="476.40" x2="510.90" y2="478.40" stroke="#D9D9D9" stroke-width="1"/>
<line x1="537.80" y1="476.40" x2="537.80" y2="478.40" stroke="#D9D9D9" stroke-width="1"/>
<text x="386.00" y="470.40" font-size="7.85" font-weight="normal" text-anchor="middle" fill="#111" stroke="#111" stroke-width="0.15" >0</text>
<rect x="390.80" y="467.55" width="5.80" height="8.85" fill="#4F81BD"/>
<text x="393.70" y="461.55" font-size="7.85" font-weight="normal" text-anchor="middle" fill="#111" stroke="#111" stroke-width="0.15" >3</text>
<text x="389.85" y="488.70" font-size="7.85" font-weight="normal" text-anchor="middle" fill="#111" stroke="#111" stroke-width="0.15" >1991 –</text>
<text x="389.85" y="497.90" font-size="7.85" font-weight="normal" text-anchor="middle" fill="#111" stroke="#111" stroke-width="0.15" >1996</text>
<rect x="410.00" y="473.45" width="5.80" height="2.95" fill="#C0504D"/>
<text x="412.90" y="467.45" font-size="7.85" font-weight="normal" text-anchor="middle" fill="#111" stroke="#111" stroke-width="0.15" >1</text>
<rect x="417.70" y="464.60" width="5.80" height="11.80" fill="#4F81BD"/>
<text x="420.60" y="458.60" font-size="7.85" font-weight="normal" text-anchor="middle" fill="#111" stroke="#111" stroke-width="0.15" >4</text>
<text x="416.75" y="488.70" font-size="7.85" font-weight="normal" text-anchor="middle" fill="#111" stroke="#111" stroke-width="0.15" >1997 –</text>
<text x="416.75" y="497.90" font-size="7.85" font-weight="normal" text-anchor="middle" fill="#111" stroke="#111" stroke-width="0.15" >2001</text>
<rect x="436.90" y="473.45" width="5.80" height="2.95" fill="#C0504D"/>
<text x="439.80" y="467.45" font-size="7.85" font-weight="normal" text-anchor="middle" fill="#111" stroke="#111" stroke-width="0.15" >1</text>
<rect x="444.60" y="464.60" width="5.80" height="11.80" fill="#4F81BD"/>
<text x="447.50" y="458.60" font-size="7.85" font-weight="normal" text-anchor="middle" fill="#111" stroke="#111" stroke-width="0.15" >4</text>
<text x="443.65" y="488.70" font-size="7.85" font-weight="normal" text-anchor="middle" fill="#111" stroke="#111" stroke-width="0.15" >2002 –</text>
<text x="443.65" y="497.90" font-size="7.85" font-weight="normal" text-anchor="middle" fill="#111" stroke="#111" stroke-width="0.15" >2006</text>
<rect x="463.80" y="458.70" width="5.80" height="17.70" fill="#C0504D"/>
<text x="466.70" y="452.70" font-size="7.85" font-weight="normal" text-anchor="middle" fill="#111" stroke="#111" stroke-width="0.15" >6</text>
<rect x="471.50" y="467.55" width="5.80" height="8.85" fill="#4F81BD"/>
<text x="474.40" y="461.55" font-size="7.85" font-weight="normal" text-anchor="middle" fill="#111" stroke="#111" stroke-width="0.15" >3</text>
<text x="470.55" y="488.70" font-size="7.85" font-weight="normal" text-anchor="middle" fill="#111" stroke="#111" stroke-width="0.15" >2007 –</text>
<text x="470.55" y="497.90" font-size="7.85" font-weight="normal" text-anchor="middle" fill="#111" stroke="#111" stroke-width="0.15" >2011</text>
<rect x="490.70" y="473.45" width="5.80" height="2.95" fill="#C0504D"/>
<text x="493.60" y="467.45" font-size="7.85" font-weight="normal" text-anchor="middle" fill="#111" stroke="#111" stroke-width="0.15" >1</text>
<rect x="498.40" y="446.90" width="5.80" height="29.50" fill="#4F81BD"/>
<text x="501.30" y="440.90" font-size="7.85" font-weight="normal" text-anchor="middle" fill="#111" stroke="#111" stroke-width="0.15" >10</text>
<text x="497.45" y="488.70" font-size="7.85" font-weight="normal" text-anchor="middle" fill="#111" stroke="#111" stroke-width="0.15" >2012 –</text>
<text x="497.45" y="497.90" font-size="7.85" font-weight="normal" text-anchor="middle" fill="#111" stroke="#111" stroke-width="0.15" >2016</text>
<rect x="517.60" y="458.70" width="5.80" height="17.70" fill="#C0504D"/>
<text x="520.50" y="452.70" font-size="7.85" font-weight="normal" text-anchor="middle" fill="#111" stroke="#111" stroke-width="0.15" >6</text>
<rect x="525.30" y="432.15" width="5.80" height="44.25" fill="#4F81BD"/>
<text x="528.20" y="426.15" font-size="7.85" font-weight="normal" text-anchor="middle" fill="#111" stroke="#111" stroke-width="0.15" >15</text>
<text x="524.35" y="488.70" font-size="7.85" font-weight="normal" text-anchor="middle" fill="#111" stroke="#111" stroke-width="0.15" >2017 –</text>
<text x="524.35" y="497.90" font-size="7.85" font-weight="normal" text-anchor="middle" fill="#111" stroke="#111" stroke-width="0.15" >2021</text>
<text x="457.70" y="509.80" font-size="7.85" font-weight="normal" text-anchor="middle" fill="#111" stroke="#111" stroke-width="0.15" >Year</text>
<text x="368.60" y="449.00" font-size="7.85" font-weight="normal" text-anchor="middle" fill="#111" stroke="#111" stroke-width="0.15" transform="rotate(-90 368.60 449.00)" dominant-baseline="central">Number of articles</text>
<rect x="420.25" y="535.55" width="3.50" height="3.50" fill="#C0504D"/>
<text x="425.30" y="539.70" font-size="7.85" font-weight="normal" text-anchor="start" fill="#111" stroke="#111" stroke-width="0.15" >Yes</text>
<rect x="444.55" y="535.55" width="3.50" height="3.50" fill="#4F81BD"/>
<text x="449.60" y="539.70" font-size="7.85" font-weight="normal" text-anchor="start" fill="#111" stroke="#111" stroke-width="0.15" >Not reported</text>
</g>
</svg></body></html>
